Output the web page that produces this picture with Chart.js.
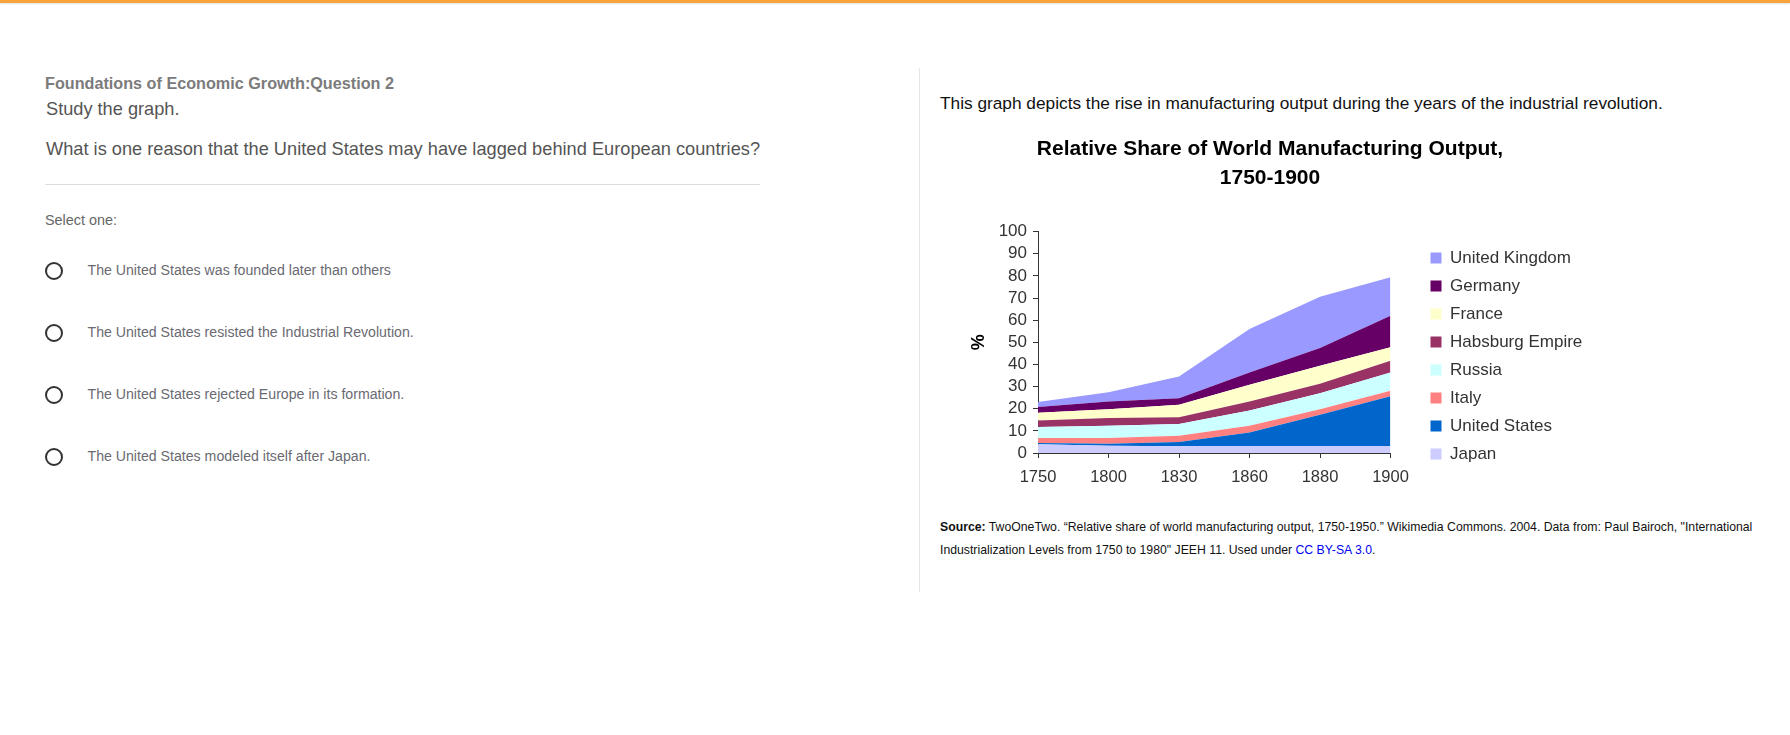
<!DOCTYPE html>
<html>
<head>
<meta charset="utf-8">
<title>Foundations of Economic Growth</title>
<script src="https://cdn.jsdelivr.net/npm/chart.js@4"></script>
<style>
  html, body { margin: 0; padding: 0; background: #fff; }
  body { width: 1790px; height: 735px; overflow: hidden; position: relative; font-family: "Liberation Sans", Arial, sans-serif; }
  .abs { position: absolute; white-space: nowrap; transform: translateY(-50%); }
  #bar { position: absolute; left: 0; top: 0; width: 1790px; height: 3px; background: #f9a33b; box-shadow: 0 1px 2px rgba(0,0,0,.12); }
  #rule { position: absolute; left: 45px; top: 184px; width: 715px; height: 1px; background: #dcdcdc; }
  #divider { position: absolute; left: 919px; top: 68px; width: 1px; height: 524px; background: #e6e6e6; }
  .radio { position: absolute; left: 45px; width: 14px; height: 14px; border: 2px solid #333; border-radius: 50%; transform: translateY(-50%); }
  .opt { left: 87.5px; font-size: 14.15px; color: #6a6a72; }
  #chartBox { position: absolute; left: 900px; top: 125px; width: 740px; height: 368px; }
  a { color: #0000ee; text-decoration: none; }
</style>
</head>
<body>
<div id="bar"></div>
<div class="abs" style="left:45px;top:83px;font-size:16.2px;font-weight:bold;color:#7b7b7b">Foundations of Economic Growth:Question 2</div>
<div class="abs" style="left:46px;top:109px;font-size:18.2px;color:#555">Study the graph.</div>
<div class="abs" style="left:46px;top:149px;font-size:18.23px;color:#555">What is one reason that the United States may have lagged behind European countries?</div>
<div id="rule"></div>
<div class="abs" style="left:45px;top:220px;font-size:14.4px;color:#666">Select one:</div>

<div class="radio" style="top:271px"></div>
<div class="abs opt" style="top:270px">The United States was founded later than others</div>
<div class="radio" style="top:333px"></div>
<div class="abs opt" style="top:332px">The United States resisted the Industrial Revolution.</div>
<div class="radio" style="top:395px"></div>
<div class="abs opt" style="top:394px">The United States rejected Europe in its formation.</div>
<div class="radio" style="top:457px"></div>
<div class="abs opt" style="top:456px">The United States modeled itself after Japan.</div>

<div id="divider"></div>
<div class="abs" style="left:940px;top:103px;font-size:17.27px;color:#111">This graph depicts the rise in manufacturing output during the years of the industrial revolution.</div>
<div id="chartBox"><canvas id="chart" width="740" height="368"></canvas></div>
<div class="abs" style="left:940px;top:527px;font-size:12.26px;color:#111"><b>Source:</b> TwoOneTwo. “Relative share of world manufacturing output, 1750-1950.” Wikimedia Commons. 2004. Data from: Paul Bairoch, "International</div>
<div class="abs" style="left:940px;top:550px;font-size:12.26px;color:#111">Industrialization Levels from 1750 to 1980" JEEH 11. Used under <a href="#">CC BY-SA 3.0</a>.</div>

<script>
// values, % share per country
const years = ['1750', '1800', '1830', '1860', '1880', '1900'];
const japan = [3.9, 3.3, 3.0, 3.0, 3.0, 3.0];
const unitedStates = [0.6, 0.9, 2.0, 6.3, 14.3, 22.6];
const italy = [2.3, 2.6, 2.8, 3.0, 2.5, 2.5];
const russia = [4.9, 5.5, 5.3, 6.9, 7.2, 8.3];
const habsburg = [3.0, 3.5, 3.0, 4.1, 4.3, 5.3];
const france = [3.5, 4.0, 5.7, 7.5, 8.1, 6.1];
const germany = [2.6, 3.5, 2.9, 5.6, 8.0, 14.2];
const unitedKingdom = [2.2, 4.2, 9.9, 19.6, 23.2, 17.4];

const axisColor = '#333';
const textFont = { family: '"Liberation Sans", Arial, sans-serif', size: 17 };

const area = (label, data, color, fill) => ({
  label, data, fill,
  backgroundColor: color,
  borderColor: color,
  borderWidth: 0,
  pointRadius: 0,
  tension: 0
});

// the original legend sits further from the plot than Chart.js would put it
const placeBlocks = {
  id: 'placeBlocks',
  afterLayout(chart) {
    const { legend, titleBlock, chartArea } = chart;
    legend.left = chartArea.right + 29;
    legend.right = chart.width;
    legend.top = 113.5;
    const shift = chart.width / 2 - (titleBlock.left + titleBlock.right) / 2;
    titleBlock.left += shift;
    titleBlock.right += shift;
  }
};

new Chart(document.getElementById('chart'), {
  type: 'line',
  data: {
    labels: years,
    datasets: [
      area('Japan', japan, '#ccccff', 'origin'),
      area('United States', unitedStates, '#0066cc', '-1'),
      area('Italy', italy, '#ff8080', '-1'),
      area('Russia', russia, '#ccffff', '-1'),
      area('Habsburg Empire', habsburg, '#993366', '-1'),
      area('France', france, '#ffffcc', '-1'),
      area('Germany', germany, '#660066', '-1'),
      area('United Kingdom', unitedKingdom, '#9999ff', '-1')
    ]
  },
  plugins: [placeBlocks],
  options: {
    responsive: false,
    animation: false,
    layout: { padding: { left: 54, right: 104 } },
    plugins: {
      tooltip: { enabled: false },
      title: {
        display: true,
        text: ['Relative Share of World Manufacturing Output,', '1750-1900'],
        color: '#000',
        font: { family: textFont.family, size: 21, weight: 'bold', lineHeight: 1.38 },
        padding: { top: 10, bottom: 38.7 }
      },
      legend: {
        position: 'right',
        align: 'start',
        reverse: true,
        labels: { boxWidth: 11, boxHeight: 11, padding: 11, color: axisColor, font: textFont }
      }
    },
    scales: {
      x: {
        border: { color: axisColor, width: 1 },
        grid: { drawOnChartArea: false, tickLength: 5, color: axisColor },
        ticks: { color: axisColor, font: { family: textFont.family, size: 16.5 }, maxRotation: 0, autoSkip: false, padding: 10 },
        afterFit(scale) { scale.height = 40; }
      },
      y: {
        stacked: true,
        min: 0,
        max: 100,
        border: { color: axisColor, width: 1 },
        grid: { drawOnChartArea: false, tickLength: 5, color: axisColor },
        ticks: { stepSize: 10, autoSkip: false, color: axisColor, font: textFont, padding: 6 },
        title: {
          display: true,
          text: '%',
          color: '#000',
          font: { family: textFont.family, size: 18, weight: 'bold' },
          padding: { top: 14 }
        },
        afterFit(scale) { scale.width = 84; }
      }
    }
  }
});
</script>
</body>
</html>
